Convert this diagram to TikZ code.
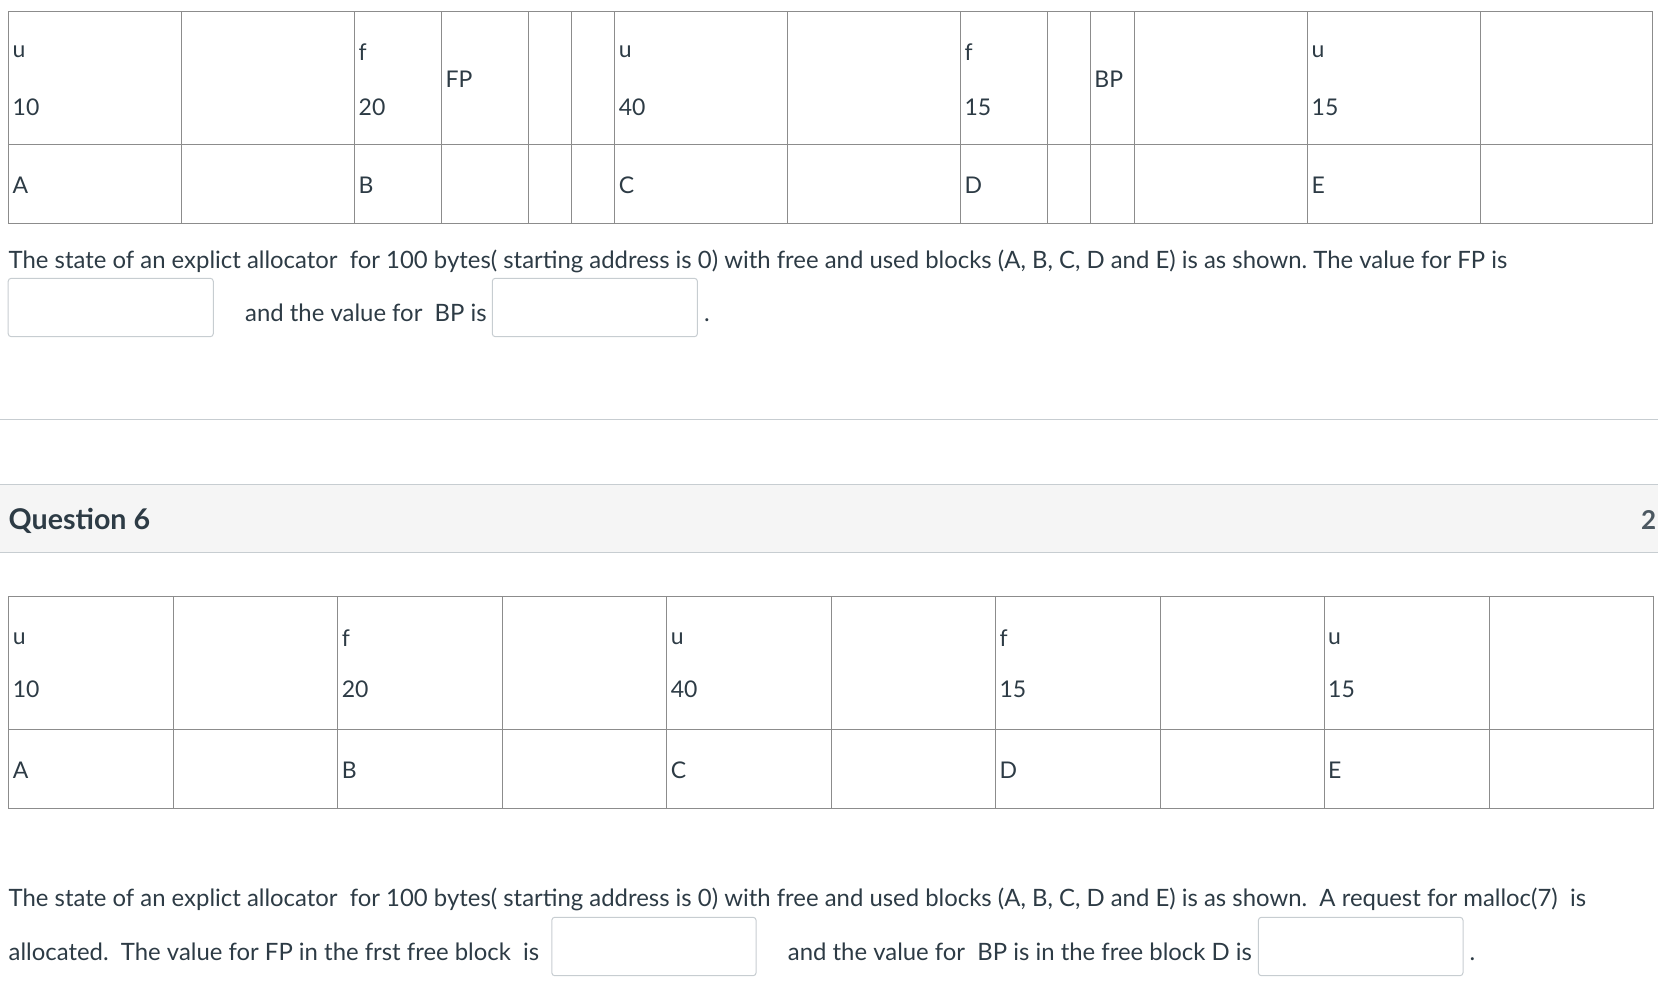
\documentclass[tikz,border=0pt]{standalone}
\usepackage{fontspec}
\setmainfont{Lato}
\definecolor{txt}{HTML}{2D3B45}
\definecolor{gridc}{HTML}{8C8C8C}
\definecolor{rulec}{HTML}{C7CDD1}
\definecolor{bandc}{HTML}{F5F5F5}
\frenchspacing
\begin{document}
\begin{tikzpicture}[x=1pt,y=-1pt,
  celltext/.style={anchor=west, inner sep=0pt, text=txt, font=\fontsize{23}{27}\selectfont},
  para/.style={anchor=base west, inner sep=0pt, text=txt, font=\fontsize{23.9}{28}\selectfont},
  ansbox/.style={draw=rulec, rounded corners=3pt, line width=1pt},
  gridline/.style={draw=gridc, line width=1pt},
  sep/.style={draw=rulec, line width=1.2pt}]
\useasboundingbox (0,0) rectangle (1658,1006);

% ---------- top table ----------
\draw[gridline] (8.5,11.6) rectangle (1652.6,223);
\draw[gridline] (8.5,144.3) -- (1652.6,144.3);
\foreach \x in {181,354.5,441.5,528.6,571.4,614.7,787,960.4,1047.8,1090.2,1134,1307.5,1480.4}
  \draw[gridline] (\x,11.6) -- (\x,223);

\node[celltext] (tu1) at (12.5,52) {u};
\node[celltext] (tn1) at (12.5,107) {10};
\node[celltext] (tA) at (12.5,185) {A};
\node[celltext] (tf1) at (358.5,52) {f};
\node[celltext] (tn2) at (358.5,107) {20};
\node[celltext] (tB) at (358.5,185) {B};
\node[celltext] (tFP) at (445.5,79) {FP};
\node[celltext] (tu2) at (618.7,52) {u};
\node[celltext] (tn3) at (618.7,107) {40};
\node[celltext] (tC) at (618.7,185) {C};
\node[celltext] (tf2) at (964.4,52) {f};
\node[celltext] (tn4) at (964.4,107) {15};
\node[celltext] (tD) at (964.4,185) {D};
\node[celltext] (tBP) at (1094.2,79) {BP};
\node[celltext] (tu3) at (1311.5,52) {u};
\node[celltext] (tn5) at (1311.5,107) {15};
\node[celltext] (tE) at (1311.5,185) {E};

% ---------- top question text ----------
\node[para] (p1) at (8.5,268.3) {The state of an explict allocator\ \ for 100 bytes( starting address is 0) with free and used blocks (A, B, C, D and E) is as shown. The value for FP is};
\draw[ansbox] (8.2,278.3) rectangle (213.3,336.7);
\node[para] (p2) at (245,321.7) {and the value for\ \ BP is};
\draw[ansbox] (492.3,278.3) rectangle (697.4,336.7);
\node[para] (p3) at (704,321.7) {.};

% ---------- separators and header ----------
\draw[sep] (0,419.3) -- (1658,419.3);
\fill[bandc] (0,484.3) rectangle (1658,552.3);
\draw[sep] (0,484.3) -- (1658,484.3);
\draw[sep] (0,552.3) -- (1658,552.3);
\node[anchor=base west, inner sep=0pt, text=txt, font=\fontsize{28.6}{32}\selectfont\bfseries] (q6) at (8.5,529) {Question 6};
\node[anchor=base west, inner sep=0pt, text=txt!85, font=\fontsize{26}{30}\selectfont\bfseries] (pts) at (1641,529) {2};

% ---------- bottom table ----------
\draw[gridline] (8.7,596) rectangle (1653.4,808.3);
\draw[gridline] (8.7,729.3) -- (1653.4,729.3);
\foreach \x in {173.4,337.7,502.4,666.7,831.3,995.3,1160.5,1324,1489.3}
  \draw[gridline] (\x,596) -- (\x,808.3);

\node[celltext] (bu1) at (12.7,638.5) {u};
\node[celltext] (bn1) at (12.7,689) {10};
\node[celltext] (bA) at (12.7,770) {A};
\node[celltext] (bf1) at (341.7,638.5) {f};
\node[celltext] (bn2) at (341.7,689) {20};
\node[celltext] (bB) at (341.7,770) {B};
\node[celltext] (bu2) at (670.7,638.5) {u};
\node[celltext] (bn3) at (670.7,689) {40};
\node[celltext] (bC) at (670.7,770) {C};
\node[celltext] (bf2) at (999.3,638.5) {f};
\node[celltext] (bn4) at (999.3,689) {15};
\node[celltext] (bD) at (999.3,770) {D};
\node[celltext] (bu3) at (1328,638.5) {u};
\node[celltext] (bn5) at (1328,689) {15};
\node[celltext] (bE) at (1328,770) {E};

% ---------- bottom question text ----------
\node[para] (q1) at (8.5,906.7) {The state of an explict allocator\ \ for 100 bytes( starting address is 0) with free and used blocks (A, B, C, D and E) is as shown.\ \ A request for malloc(7)\ \ is};
\node[para] (q2) at (8.5,960.7) {allocated.\ \ The value for FP in the frst free block\ \ is};
\draw[ansbox] (551.8,917.3) rectangle (756.1,975.7);
\node[para] (q3) at (787.7,960.7) {and the value for\ \ BP is in the free block D is};
\draw[ansbox] (1258.4,917.3) rectangle (1463,975.7);
\node[para] (q4) at (1469.5,960.7) {.};
\end{tikzpicture}
\end{document}
